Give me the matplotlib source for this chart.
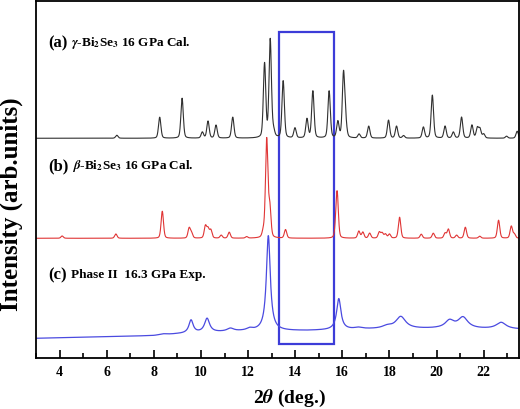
import numpy as np
import matplotlib
matplotlib.use("Agg")
import matplotlib.pyplot as plt
from matplotlib.patches import Rectangle
from matplotlib.ticker import MultipleLocator

plt.rcParams["font.family"] = ["Liberation Serif", "DejaVu Serif"]
plt.rcParams["mathtext.fontset"] = "stix"

# peak positions (deg) and heights (arb.)
a_pos = [6.43, 8.25, 9.2, 10.06, 10.3, 10.64, 11.35, 12.7, 12.94, 13.08, 13.49,
         13.99, 14.5, 14.75, 15.44, 15.81, 16.05, 16.14, 16.71, 17.12, 17.96,
         18.3, 18.6, 19.44, 19.82, 20.36, 20.71, 21.06, 21.5, 21.73, 21.84,
         22.0, 22.97, 23.42]
a_hgt = [3, 21, 40, 6, 17, 13, 21, 74, 98, 6, 57, 10, 19, 47, 47, 16, 64, 14,
         4, 12, 18, 12, 2.5, 11, 43, 12, 6, 21, 13, 10, 9, 4, 2, 7]
a_base = 219.7

b_pos = [4.11, 6.39, 8.36, 9.5, 9.6, 10.19, 10.3, 10.42, 10.86, 11.2, 11.94,
         12.65, 12.79, 12.92, 13.59, 15.72, 15.78, 16.7, 16.87, 17.16, 17.57,
         17.69, 17.83, 18.0, 18.43, 19.35, 19.86, 20.36, 20.5, 20.85, 21.22,
         21.83, 22.63, 23.17, 23.3]
b_hgt = [2.3, 4.3, 27, 10, 5, 12, 9, 8, 3, 6, 1.5, 6, 98, 30, 8.5, 5, 45,
         7, 6, 5, 6, 5, 4, 4, 21, 4, 5, 5, 9, 3, 11, 2, 18, 12, 4]
b_base = 119.7

c_pos = [8.4, 9.58, 10.26, 11.25, 12.07, 12.86, 15.85, 16.68, 17.9, 18.48,
         20.55, 21.12, 22.74]
c_hgt = [1, 13, 14, 3, 2, 95, 31, 1.5, 2.5, 12, 7.5, 11, 6.5]
c_wid = [0.4, 0.22, 0.26, 0.35, 0.3, 0.2, 0.22, 0.4, 0.5, 0.5, 0.45, 0.5, 0.5]
c_bg_x = [3, 8, 9, 12, 14.5, 17, 20, 23.5]
c_bg_y = [19.7, 22.3, 24, 27, 27.3, 28.7, 29.3, 28.7]

box_x = [13.32, 15.63]
box_y = [14, 326]

x = np.linspace(3, 23.5, 5000)


def pvoigt(pos, hgt, wid, eta):
    out = np.zeros_like(x)
    for p, h, w in zip(pos, hgt, wid):
        d = (x - p) / (w / 2)
        out += h * (eta / (1 + d ** 2) + (1 - eta) * np.exp(-np.log(2) * d ** 2))
    return out


ya = a_base + pvoigt(a_pos, a_hgt, [0.12] * len(a_pos), 0.3)
yb = b_base + pvoigt(b_pos, b_hgt, [0.12] * len(b_pos), 0.3)
yc = np.interp(x, c_bg_x, c_bg_y) + pvoigt(c_pos, c_hgt, c_wid, 1.0)

fig = plt.figure(figsize=(5.2, 4.09), dpi=100)
ax = fig.add_axes([0.0692, 0.1247, 0.929, 0.873])

ax.plot(x, ya, color="#303030", lw=0.8)
ax.plot(x, yb, color="#e03535", lw=0.8)
ax.plot(x, yc, color="#4a4ae0", lw=0.9)

ax.add_patch(Rectangle((box_x[0], box_y[0]), box_x[1] - box_x[0],
                       box_y[1] - box_y[0], fill=False,
                       edgecolor="#3c3cd8", lw=1.6))

ax.set_xlim(3, 23.5)
ax.set_ylim(0, 357)
ax.xaxis.set_minor_locator(MultipleLocator(1))
ax.set_xticks([4, 6, 8, 10, 12, 14, 16, 18, 20, 22])
ax.set_yticks([])
ax.tick_params(axis="x", which="major", direction="in", length=6, width=1.2,
               labelsize=10, pad=6)
ax.tick_params(axis="x", which="minor", direction="in", length=3.5, width=1.2)
for lab in ax.get_xticklabels():
    lab.set_fontweight("bold")
for sp in ax.spines.values():
    sp.set_linewidth(1.3)

ax.set_xlabel(r"2$\mathbfit{\theta}$ (deg.)", fontsize=14, fontweight="bold",
              va="center")
ax.xaxis.label.set_fontweight("bold")
ax.xaxis.set_label_coords(0.524, -0.112)
fig.text(0.022, 0.5, "Intensity (arb.units)", rotation=90, fontsize=18,
         fontweight="bold", ha="center", va="center")

labels = [("(a)", r"$\mathbfit{\gamma}$-Bi$_\mathbf{2}$Se$_\mathbf{3}$ 16 GPa Cal.", 315, 9.5),
          ("(b)", r"$\mathbfit{\beta}$-Bi$_\mathbf{2}$Se$_\mathbf{3}$ 16 GPa Cal.", 192, 9.5),
          ("(c)", "Phase II  16.3 GPa Exp.", 83, 9.5)]
for tag, desc, yy, fs in labels:
    t = ax.text(3.5, yy, tag, fontsize=12, fontweight="bold", va="center")
    ax.annotate(desc, xy=(1, 0.5), xycoords=t, xytext=(3, 0),
                textcoords="offset points", va="center", fontsize=fs,
                fontweight="bold")

fig.savefig("out.png", dpi=100)
